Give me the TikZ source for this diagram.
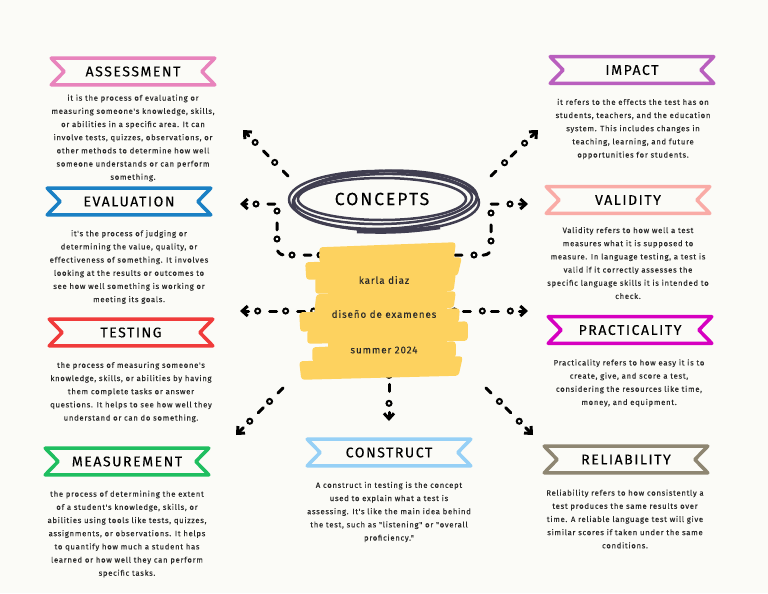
\documentclass[tikz,border=0pt]{standalone}
\usepackage{fontspec}
\usetikzlibrary{arrows.meta,calc,decorations.markings,shapes.geometric}
\newfontfamily\bodyfont[LetterSpace=9,FakeBold=0.08]{Fira Sans}
\newfontfamily\headfont[LetterSpace=11,FakeBold=0.1]{Fira Sans}
\definecolor{paper}{HTML}{FBFBF7}
\definecolor{ink}{HTML}{2A2A2A}
\definecolor{scribble}{HTML}{403E50}
\definecolor{marker}{HTML}{FDD25F}
\definecolor{cAsm}{HTML}{E883BC}
\definecolor{cEva}{HTML}{1A80C4}
\definecolor{cTes}{HTML}{F03B3B}
\definecolor{cMea}{HTML}{1FBE60}
\definecolor{cImp}{HTML}{B95FBE}
\definecolor{cVal}{HTML}{F9ABA6}
\definecolor{cPra}{HTML}{D600C0}
\definecolor{cRel}{HTML}{8E8672}
\definecolor{cCon}{HTML}{96D0F6}
\tikzset{
	ribbon/.style={minimum width=3.26cm,minimum height=.52cm,inner sep=0pt,text=black,font=\headfont\fontsize{8}{9}\selectfont},
	ribbonline/.style={line width=.07cm,line join=round},
	para/.style={align=center,inner sep=0pt,text=ink,font=\bodyfont\fontsize{4.4}{7.5}\selectfont},
	stamp/.style={inner sep=0pt,text=ink,font=\bodyfont\fontsize{5.6}{7}\selectfont},
	dashlink/.style={line width=.06cm,line cap=round,dash pattern=on .14cm off .42cm,
		-{Straight Barb[length=.11cm,width=.2cm]},
		decoration={markings,mark=between positions .38cm and 1 step .56cm with
			{\draw[solid,line width=.04cm,fill=paper] (0,0) circle (.05cm);}},
		postaction={decorate}},
}
\newcommand{\ribbon}[5]{
	\node[ribbon] (#1) at (#2) {#5};
	\draw[ribbonline,#4] (#1.north west) -- (#1.north east) -- ($(#1.east)+(-#3,0)$) -- (#1.south east)
		-- (#1.south west) -- ($(#1.west)+(#3,0)$) -- cycle;
}
\begin{document}
\begin{tikzpicture}[x=.02cm,y=-.02cm]
	\fill[paper] (0,0) rectangle (768,593);

	\node[minimum width=2.04cm,minimum height=1.8cm,inner sep=0pt] (block) at (384,311) {};
	\node[ellipse,minimum width=3.36cm,minimum height=.84cm,inner sep=0pt,draw=scribble,line width=.05cm,
		text=black,font=\headfont\fontsize{10}{12}\selectfont] (concepts) at (382,199) {CONCEPTS};

	% scribbled ring
	\draw[scribble,line width=.05cm] (383,199) ellipse [x radius=89,y radius=25,rotate=1];
	\draw[scribble,line width=.05cm] (384,201) ellipse [x radius=95,y radius=30,rotate=-1];
	\draw[scribble,line width=.06cm] (385,200) ellipse [x radius=92,y radius=29,rotate=2];
	\draw[scribble,line width=.09cm] (357,231) to[bend right=5] (440,227);

	% free ends
	\coordinate (tAsm) at (243,130);
	\coordinate (sAsm) at (288,176);
	\coordinate (tImp) at (538,130);
	\coordinate (sImp) at (491,176);
	\coordinate (tEva) at (240,204);
	\coordinate (sEva) at (339,255);
	\coordinate (tVal) at (528,204);
	\coordinate (sVal) at (455,255);
	\coordinate (tTes) at (240,311);
	\coordinate (tPra) at (528,311);
	\coordinate (sMea) at (283,388);
	\coordinate (tMea) at (236,435);
	\coordinate (sRel) at (486,388);
	\coordinate (tRel) at (533,435);
	\coordinate (tCon) at (389,421);

	\draw[dashlink] (sAsm) -- (tAsm);
	\draw[dashlink] (sImp) -- (tImp);
	\draw[dashlink] (sEva) [rounded corners=.14cm] -- (277,255) [sharp corners] -- (277,204) -- (tEva);
	\draw[dashlink] (sVal) [rounded corners=.14cm] -- (491,255) [sharp corners] -- (491,204) -- (tVal);
	\draw[dashlink] (block.west) -- (tTes);
	\draw[dashlink] (block.east) -- (tPra);
	\draw[dashlink] (sMea) -- (tMea);
	\draw[dashlink] (sRel) -- (tRel);
	\draw[dashlink] ($(block.south)+(5,0)$) -- (tCon);

	% marker strokes behind the three lines
	\fill[marker] (328,247) rectangle (447,372);
	\foreach \xa/\ya/\xb/\yb/\xc/\yc/\xd/\yd in {
		320/248/455/243/453/260/320/262,
		306/263/461/258/457/275/307/279,
		316/278/455/274/453/290/316/293,
		317/295/455/292/453/307/315/313,
		300/313/459/309/458/322/301/331,
		308/331/467/322/467/340/308/343,
		313/348/455/342/455/357/313/361,
		300/362/462/357/458/375/302/379}
		\fill[marker,draw=marker,line width=.03cm,rounded corners=.05cm] (\xa,\ya) -- (\xb,\yb) -- (\xc,\yc) -- (\xd,\yd) -- cycle;

	\node[stamp] (karla) at (384,280) {karla diaz};
	\node[stamp] (diseno) at (384,314) {diseño de examenes};
	\node[stamp] (summer) at (384,350) {summer 2024};

	\ribbon{asm}{133,71.5}{13}{cAsm}{ASSESSMENT}
	\ribbon{eva}{129,201.5}{13}{cEva}{EVALUATION}
	\ribbon{tes}{131,332.5}{13}{cTes}{TESTING}
	\ribbon{mea}{127,461.5}{13}{cMea}{MEASUREMENT}
	\ribbon{imp}{632,70}{13}{cImp}{IMPACT}
	\ribbon{val}{628,200}{13}{cVal}{VALIDITY}
	\ribbon{pra}{630,330}{13}{cPra}{PRACTICALITY}
	\ribbon{rel}{626,459.5}{13}{cRel}{RELIABILITY}
	\ribbon{con}{389,452.5}{13}{cCon}{CONSTRUCT}

	\node[para] (asmText) at (133,138) {it is the process of evaluating or\\measuring someone's knowledge, skills,\\or abilities in a specific area. It can\\involve tests, quizzes, observations, or\\other methods to determine how well\\someone understands or can perform\\something.};
	\node[para] (evaText) at (129,267) {it's the process of judging or\\determining the value, quality, or\\effectiveness of something. It involves\\looking at the results or outcomes to\\see how well something is working or\\meeting its goals.};
	\node[para] (tesText) at (131,392) {the process of measuring someone's\\knowledge, skills, or abilities by having\\them complete tasks or answer\\questions. It helps to see how well they\\understand or can do something.};
	\node[para] (meaText) at (127,534) {the process of determining the extent\\of a student's knowledge, skills, or\\abilities using tools like tests, quizzes,\\assignments, or observations. It helps\\to quantify how much a student has\\learned or how well they can perform\\specific tasks.};
	\node[para] (impText) at (633,129) {it refers to the effects the test has on\\students, teachers, and the education\\system. This includes changes in\\teaching, learning, and future\\opportunities for students.};
	\node[para] (valText) at (628,263) {Validity refers to how well a test\\measures what it is supposed to\\measure. In language testing, a test is\\valid if it correctly assesses the\\specific language skills it is intended to\\check.};
	\node[para] (praText) at (629,383) {Practicality refers to how easy it is to\\create, give, and score a test,\\considering the resources like time,\\money, and equipment.};
	\node[para] (relText) at (625,519) {Reliability refers to how consistently a\\test produces the same results over\\time. A reliable language test will give\\similar scores if taken under the same\\conditions.};
	\node[para] (conText) at (389,512) {A construct in testing is the concept\\used to explain what a test is\\assessing. It's like the main idea behind\\the test, such as "listening" or "overall\\proficiency."};
\end{tikzpicture}
\end{document}
